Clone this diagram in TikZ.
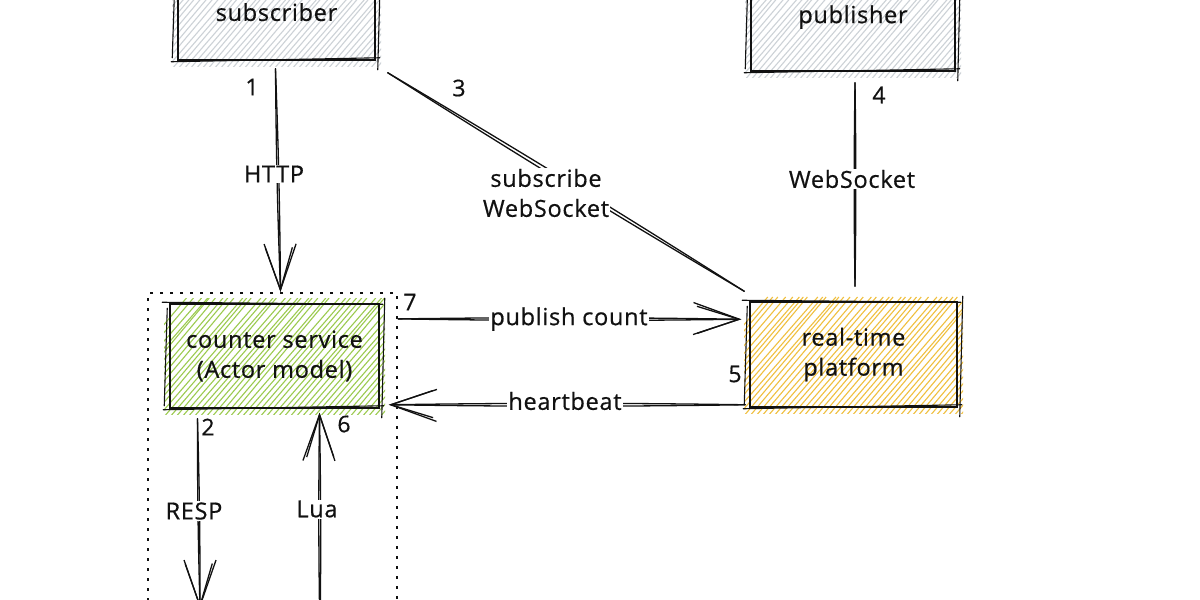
\documentclass[tikz,border=0pt]{standalone}
\usepackage{fontspec}
\setmainfont[LetterSpace=3,FakeBold=0.6]{Open Sans}
\usetikzlibrary{arrows.meta,bending}
\definecolor{ink}{HTML}{111111}
\definecolor{hgrey}{HTML}{CDD2D7}
\definecolor{hgreen}{HTML}{9CCB50}
\definecolor{hyellow}{HTML}{F0C040}
\tikzset{
  x=1pt,y=-1pt,
  boxnode/.style={draw=ink,line width=1.5pt,inner sep=0pt,align=center,font=\fontsize{23.5}{30}\selectfont,text=ink},
  groupnode/.style={draw=ink,line width=2.2pt,dash pattern=on 3pt off 7pt,inner sep=0pt,minimum width=249pt},
  labelnode/.style={fill=white,inner sep=1pt,align=center,font=\fontsize{23.5}{30}\selectfont,text=ink},
  numnode/.style={inner sep=0pt,font=\fontsize{23}{24}\selectfont,text=ink},
  wire/.style={draw=ink,line width=1.3pt,line cap=round},
  tipa/.style={-{Straight Barb[length=46pt,width=32pt,line width=1.3pt]}},
  tipb/.style={-{Straight Barb[length=42pt,width=27pt,line width=1.3pt]}},
  sketchedge/.style={draw=ink,line width=1.1pt,line cap=round}
}
% hachure fill, slightly overflowing the box
\newcommand\hachure[5]{%
  \begin{scope}
    \clip (#1-6,#2-6) rectangle (#3+6,#4+6);
    \foreach \k in {0,6,...,420}{
      \draw[#5,line width=1.1pt] (#1-85+\k,#4+10) -- (#1-85+\k+100+rnd*5,#4+10-120);
    }
  \end{scope}}
% second pencil stroke round a box
\newcommand\skbox[1]{%
  \draw[sketchedge] ([shift={(-7,-1)}]#1.north west) -- ([shift={(3,1)}]#1.north east);
  \draw[sketchedge] ([shift={(5,-5)}]#1.north east) -- ([shift={(2,9)}]#1.south east);
  \draw[sketchedge] ([shift={(-6,1)}]#1.south west) -- ([shift={(4,-3)}]#1.south east);
  \draw[sketchedge] ([shift={(-2,5)}]#1.north west) -- ([shift={(-5,-3)}]#1.south west);}
% connector of two strokes: #1 first options, #2 second options, #3 from, #4 to
\newcommand\skwire[4]{%
  \draw[wire,#1] #3 to[bend left=0.8] #4;
  \draw[wire,#2] #3 to[bend right=0.8] #4;}
\begin{document}
\begin{tikzpicture}
\clip (0,0) rectangle (1200,600);
\useasboundingbox (0,0) rectangle (1200,600);
\pgfmathsetseed{7}
\fill[white] (0,0) rectangle (1200,600);
\hachure{178}{-36}{375}{60}{hgrey}
\hachure{751}{-37}{955}{71}{hgrey}
\hachure{170}{304}{379}{408}{hgreen}
\hachure{750}{302}{957}{407}{hyellow}
\node[boxnode,minimum width=197pt,minimum height=96pt,text depth=0pt] (subscriber) at (276.5,12) {subscriber};
\node[boxnode,minimum width=204pt,minimum height=108pt] (publisher) at (853,17) {publisher};
\node[boxnode,minimum width=209pt,minimum height=104pt] (counter) at (274.5,356) {counter service\\(Actor model)};
\node[boxnode,minimum width=207pt,minimum height=105pt] (platform) at (853.5,354.5) {real-time\\platform};
\skbox{subscriber}\skbox{publisher}\skbox{counter}\skbox{platform}
\node[groupnode,minimum height=427pt] (group) at (272.5,506.5) {};
\coordinate (respend) at (200,608);
\coordinate (luastart) at (320,640);
% connectors
\skwire{tipa}{tipb}{([shift={(-1,8)}]subscriber.south)}{([shift={(8,0)}]group.north)}
\skwire{}{}{([shift={(12,12)}]subscriber.south east)}{([shift={(-5,-10)}]platform.north west)}
\skwire{}{}{([shift={(2,11)}]publisher.south)}{([shift={(1.5,-15)}]platform.north)}
\skwire{tipa}{tipb}{([shift={(0,27)}]group.north east)}{([shift={(-8,18)}]platform.north west)}
\skwire{tipa}{tipb}{([shift={(-4,-3)}]platform.south west)}{([shift={(9,-3)}]counter.south east |- platform.south west)}
\skwire{tipa}{tipb}{([shift={(-77,10)}]counter.south)}{(respend)}
\skwire{tipa}{tipb}{(luastart)}{([shift={(45,4)}]counter.south)}
% connector labels
\node[labelnode] (lhttp) at (274,174) {HTTP};
\node[labelnode] (lsub) at (546,193) {subscribe\\WebSocket};
\node[labelnode] (lws) at (852,179) {WebSocket};
\node[labelnode] (lpub) at (569,319) {publish count};
\node[labelnode] (lhb) at (565,401) {heartbeat};
\node[labelnode] (lresp) at (194,511) {RESP};
\node[labelnode] (llua) at (317,509) {Lua};
% step numbers
\node[numnode] (n1) at (252,87) {1};
\node[numnode] (n3) at (459,88) {3};
\node[numnode] (n4) at (879,95) {4};
\node[numnode] (n2) at (208,427) {2};
\node[numnode] (n6) at (344,424) {6};
\node[numnode] (n7) at (410,302) {7};
\node[numnode] (n5) at (735,374) {5};
\end{tikzpicture}
\end{document}
